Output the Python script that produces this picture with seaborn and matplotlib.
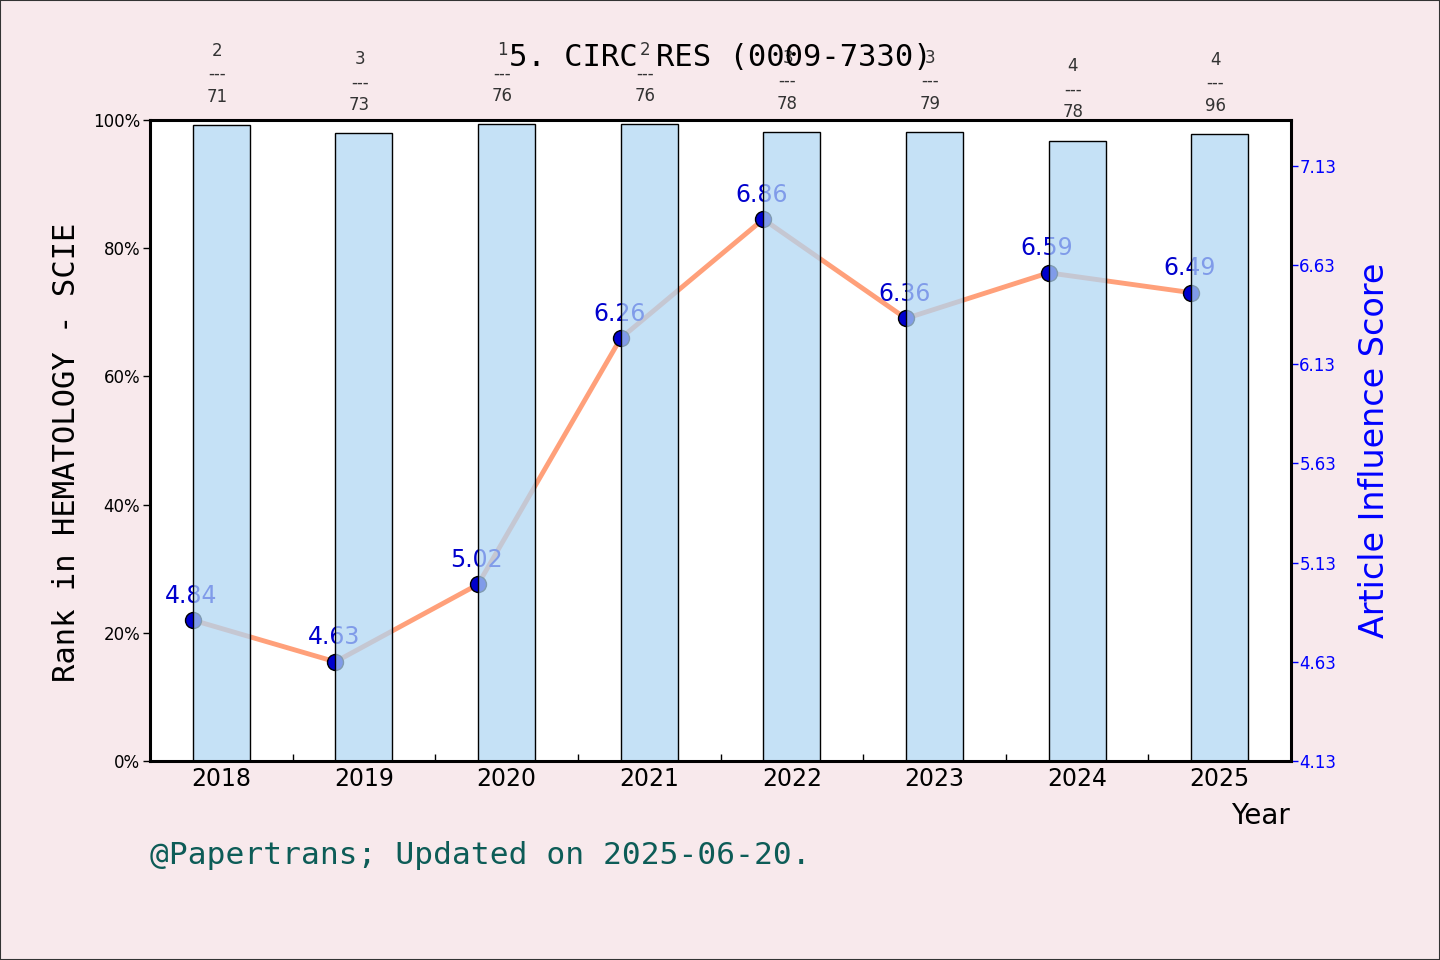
import matplotlib
matplotlib.use("Agg")
import numpy as np
import matplotlib.pyplot as plt
import seaborn as sns
from matplotlib.colors import to_rgba
from matplotlib.patches import Rectangle
from matplotlib.ticker import FixedLocator, PercentFormatter

sns.set_theme(style="white")
plt.rcParams["font.family"] = ["DejaVu Sans"]

# ── Data ───────────────────────────────────────────────────────────────────
YEARS    = ["2018", "2019", "2020", "2021", "2022", "2023", "2024", "2025"]
RANK     = [2, 3, 1, 2, 3, 3, 4, 4]
TOTAL    = [71, 73, 76, 76, 78, 79, 78, 96]
BAR_PCT  = [99.2, 97.9, 99.3, 99.3, 98.1, 98.1, 96.8, 97.8]
AIS      = [4.84, 4.63, 5.02, 6.26, 6.86, 6.36, 6.59, 6.49]
AIS_TICKS = [4.13, 4.63, 5.13, 5.63, 6.13, 6.63, 7.13]
AIS_LIM  = (4.13, 7.36)

BG      = "#F8E9EC"
BAR_COL = "#B0D6F4"
LINE    = "#FFA07A"
PT_COL  = "#0000CD"
TEAL    = "#0D5C57"
MONO    = "DejaVu Sans Mono"

fig = plt.figure(figsize=(14.4, 9.6), dpi=100, facecolor=BG)
ax = fig.add_axes([150 / 1440, 1 - 761 / 960, 1141 / 1440, 641 / 960])
ax2 = ax.twinx()

# bars live on ax (drawn on top), the line on ax2 (drawn underneath)
ax.set_zorder(2)
ax.patch.set_visible(False)
ax2.patch.set_visible(True)
ax2.patch.set_facecolor("white")

sns.barplot(x=YEARS, y=BAR_PCT, ax=ax, color=BAR_COL, width=0.4, saturation=1,
            edgecolor="black", linewidth=1)
for p in ax.patches:
    p.set_facecolor(to_rgba(BAR_COL, 0.73))
    p.set_edgecolor("black")
ax.set_xlim(-0.5, 7.5)
ax.set_ylim(0, 100)
ax.set_yticks(np.arange(0, 101, 20))
ax.yaxis.set_major_formatter(PercentFormatter(decimals=0))
ax.set_xlabel("")
ax.set_ylabel("")
ax.tick_params(axis="x", which="major", length=0, pad=4, labelsize=17, colors="black")
ax.xaxis.set_minor_locator(FixedLocator(np.arange(7) + 0.5))
ax.tick_params(axis="x", which="minor", direction="in", length=5, width=1,
               bottom=True, color="black")
ax.tick_params(axis="y", length=5, width=1, pad=2, labelsize=12, left=True,
               color="black", labelcolor="black")
for s in ax.spines.values():
    s.set_color("black")
    s.set_linewidth(2.2)

# rank labels over the bars
for i, (r, t, h) in enumerate(zip(RANK, TOTAL, BAR_PCT)):
    ax.text(i - 0.03, h + 3, f"{r}\n---\n{t}", ha="center", va="bottom", fontsize=12,
            color="#333333", linespacing=1.35, clip_on=False)

# AIS line, points sit on the left edge of each bar
xpos = np.arange(len(AIS)) - 0.2
sns.lineplot(x=xpos, y=AIS, ax=ax2, color=LINE, linewidth=3.5, sort=False,
             marker="o", markersize=11.5, markerfacecolor=PT_COL,
             markeredgecolor="black", markeredgewidth=1)
for x, v in zip(xpos, AIS):
    ax2.annotate(f"{v:.2f}", (x, v), xytext=(-1, 9), textcoords="offset points",
                 ha="center", va="bottom", fontsize=17, color=PT_COL)
ax2.set_ylim(*AIS_LIM)
ax2.set_yticks(AIS_TICKS)
ax2.set_yticklabels([f"{t:.2f}" for t in AIS_TICKS])
ax2.tick_params(axis="y", right=True, length=5, width=1, pad=1, labelsize=12,
                color="blue", labelcolor="blue")
for s in ax2.spines.values():
    s.set_visible(False)

# texts
fig.text(0.5, 1 - 57 / 960, "5. CIRC RES (0009-7330)", ha="center", va="center",
         fontsize=22, family=MONO, color="black")
fig.text(67 / 1440, 1 - 452 / 960, "Rank in HEMATOLOGY - SCIE", rotation=90,
         ha="center", va="center", fontsize=22, family=MONO, color="black")
fig.text(1374 / 1440, 1 - 450 / 960, "Article Influence Score", rotation=90,
         ha="center", va="center", fontsize=24, color="blue")
fig.text(1290 / 1440, 1 - 816 / 960, "Year", ha="right", va="center",
         fontsize=20, color="black")
fig.text(150 / 1440, 1 - 855 / 960, "@Papertrans; Updated on 2025-06-20.",
         ha="left", va="center", fontsize=22.5, family=MONO, color=TEAL)

# thin frame round the whole figure
fig.patches.append(Rectangle((0, 0), 1, 1, transform=fig.transFigure, fill=False,
                             edgecolor="#333333", linewidth=1.5))

fig.savefig("out.png", dpi=100, facecolor=BG)
plt.close(fig)
